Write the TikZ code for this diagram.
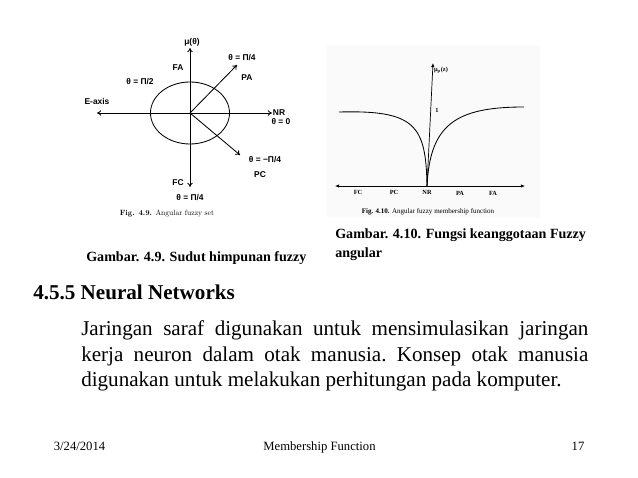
\documentclass[tikz,border=0pt]{standalone}
\usepackage{fontspec}
\newfontfamily\slidefont{Liberation Serif}
\newfontfamily\figfont{Liberation Sans}
\usetikzlibrary{arrows.meta}
\definecolor{scangray}{HTML}{FAFAFA}
\tikzset{
  axlabel/.style={font=\figfont\bfseries\fontsize{6}{7}\selectfont, inner sep=0pt},
  tinylabel/.style={font=\slidefont\bfseries\fontsize{4.5}{5}\selectfont, inner sep=0pt},
  captext/.style={font=\slidefont\bfseries\fontsize{10}{12}\selectfont, inner sep=0pt, anchor=base west},
  foottext/.style={font=\slidefont\fontsize{9}{11}\selectfont, inner sep=0pt, anchor=base},
  vec/.style={-{To[length=3pt,width=4pt]}, line width=0.6pt},
}

\begin{document}
\begin{tikzpicture}[x=0.025cm,y=-0.025cm]
\useasboundingbox (0,0) rectangle (638,478);

% Fig. 4.9
\coordinate (o) at (190,113);
\coordinate (mutop) at (190,48);
\coordinate (fcend) at (190,187);
\coordinate (nrend) at (272,113);
\coordinate (eaxis) at (97,113);
\coordinate (paend) at (237,65);
\coordinate (pcend) at (240,155);
\draw[line width=0.6pt] (o) ellipse [x radius=0.9875cm, y radius=0.775cm];
\draw[vec] (o) -- (mutop);
\draw[vec] (o) -- (fcend);
\draw[vec] (o) -- (nrend);
\draw[vec] (o) -- (eaxis);
\draw[vec] (o) -- (paend);
\draw[vec] (o) -- (pcend);
\node[axlabel] (mu) at (192,42) {μ(θ)};
\node[axlabel] (pifour) at (242,58) {θ = Π/4};
\node[axlabel] (fa) at (178,68) {FA};
\node[axlabel] (pa) at (247,78) {PA};
\node[axlabel] (pitwo) at (140,82) {θ = Π/2};
\node[axlabel] (ea) at (97,101) {E-axis};
\node[axlabel] (nr) at (279,113) {NR};
\node[axlabel] (zero) at (281,121.5) {θ = 0};
\node[axlabel] (mpifour) at (265,160) {θ = −Π/4};
\node[axlabel] (pc) at (260,175) {PC};
\node[axlabel] (fc) at (178,183) {FC};
\node[axlabel] (pifourb) at (190,198) {θ = Π/4};
\node[inner sep=0pt] (cap49) at (167,214) {\scalebox{0.54}{\textbf{Fig. 4.9.} Angular fuzzy set}};

% Fig. 4.10
\fill[scangray] (327,45) rectangle (540,217);
\coordinate (zc) at (427,186);
\coordinate (zl) at (335,186);
\coordinate (zr) at (525,186);
\coordinate (mup) at (433,63);
\draw[{Latex[length=3pt,width=2.5pt]}-{Latex[length=3pt,width=2.5pt]}, line width=0.5pt] (zl) -- (zr);
\draw[-{Latex[length=3pt,width=2.5pt]}, line width=0.5pt] (zc) -- (mup);
\draw[line width=0.6pt] (339,112) .. controls (415,110) and (426,125) .. (zc);
\draw[line width=0.6pt] (zc) .. controls (430,125) and (455,107) .. (524,107);
\node[tinylabel] (mulab) at (441,70) {μ\textsubscript{p}(z)};
\node[tinylabel] (one) at (437,110) {1};
\node[tinylabel] (zfc) at (358,192) {FC};
\node[tinylabel] (zpc) at (394,192) {PC};
\node[tinylabel] (znr) at (427,192) {NR};
\node[tinylabel] (zpa) at (460,193) {PA};
\node[tinylabel] (zfa) at (493,193) {FA};
\node[inner sep=0pt, font=\slidefont\fontsize{5}{6}\selectfont] (cap410) at (428,212) {\textbf{Fig. 4.10.} Angular fuzzy membership function};

% captions under the figures
\node[captext] (gam410) at (335,239) {Gambar. 4.10. Fungsi keanggotaan Fuzzy};
\node[captext] (angular) at (335,258) {angular};
\node[captext] (gam49) at (86,262) {Gambar. 4.9. Sudut himpunan fuzzy};

% section text
\node[captext, font=\slidefont\bfseries\fontsize{15}{18}\selectfont] (head) at (33,300) {4.5.5 Neural Networks};
\node[inner sep=0pt, anchor=base west, text width=12.675cm, align=justify,
      font=\slidefont\fontsize{15}{18}\selectfont\frenchspacing] (body) at (81,336)
  {Jaringan saraf digunakan untuk mensimulasikan jaringan\linebreak
   kerja neuron dalam otak manusia. Konsep otak manusia\linebreak
   digunakan untuk melakukan perhitungan pada komputer.};

% footer
\node[foottext] (date) at (79.5,450) {3/24/2014};
\node[foottext] (title) at (319.5,450) {Membership Function};
\node[foottext] (page) at (578,450) {17};
\end{tikzpicture}
\end{document}
